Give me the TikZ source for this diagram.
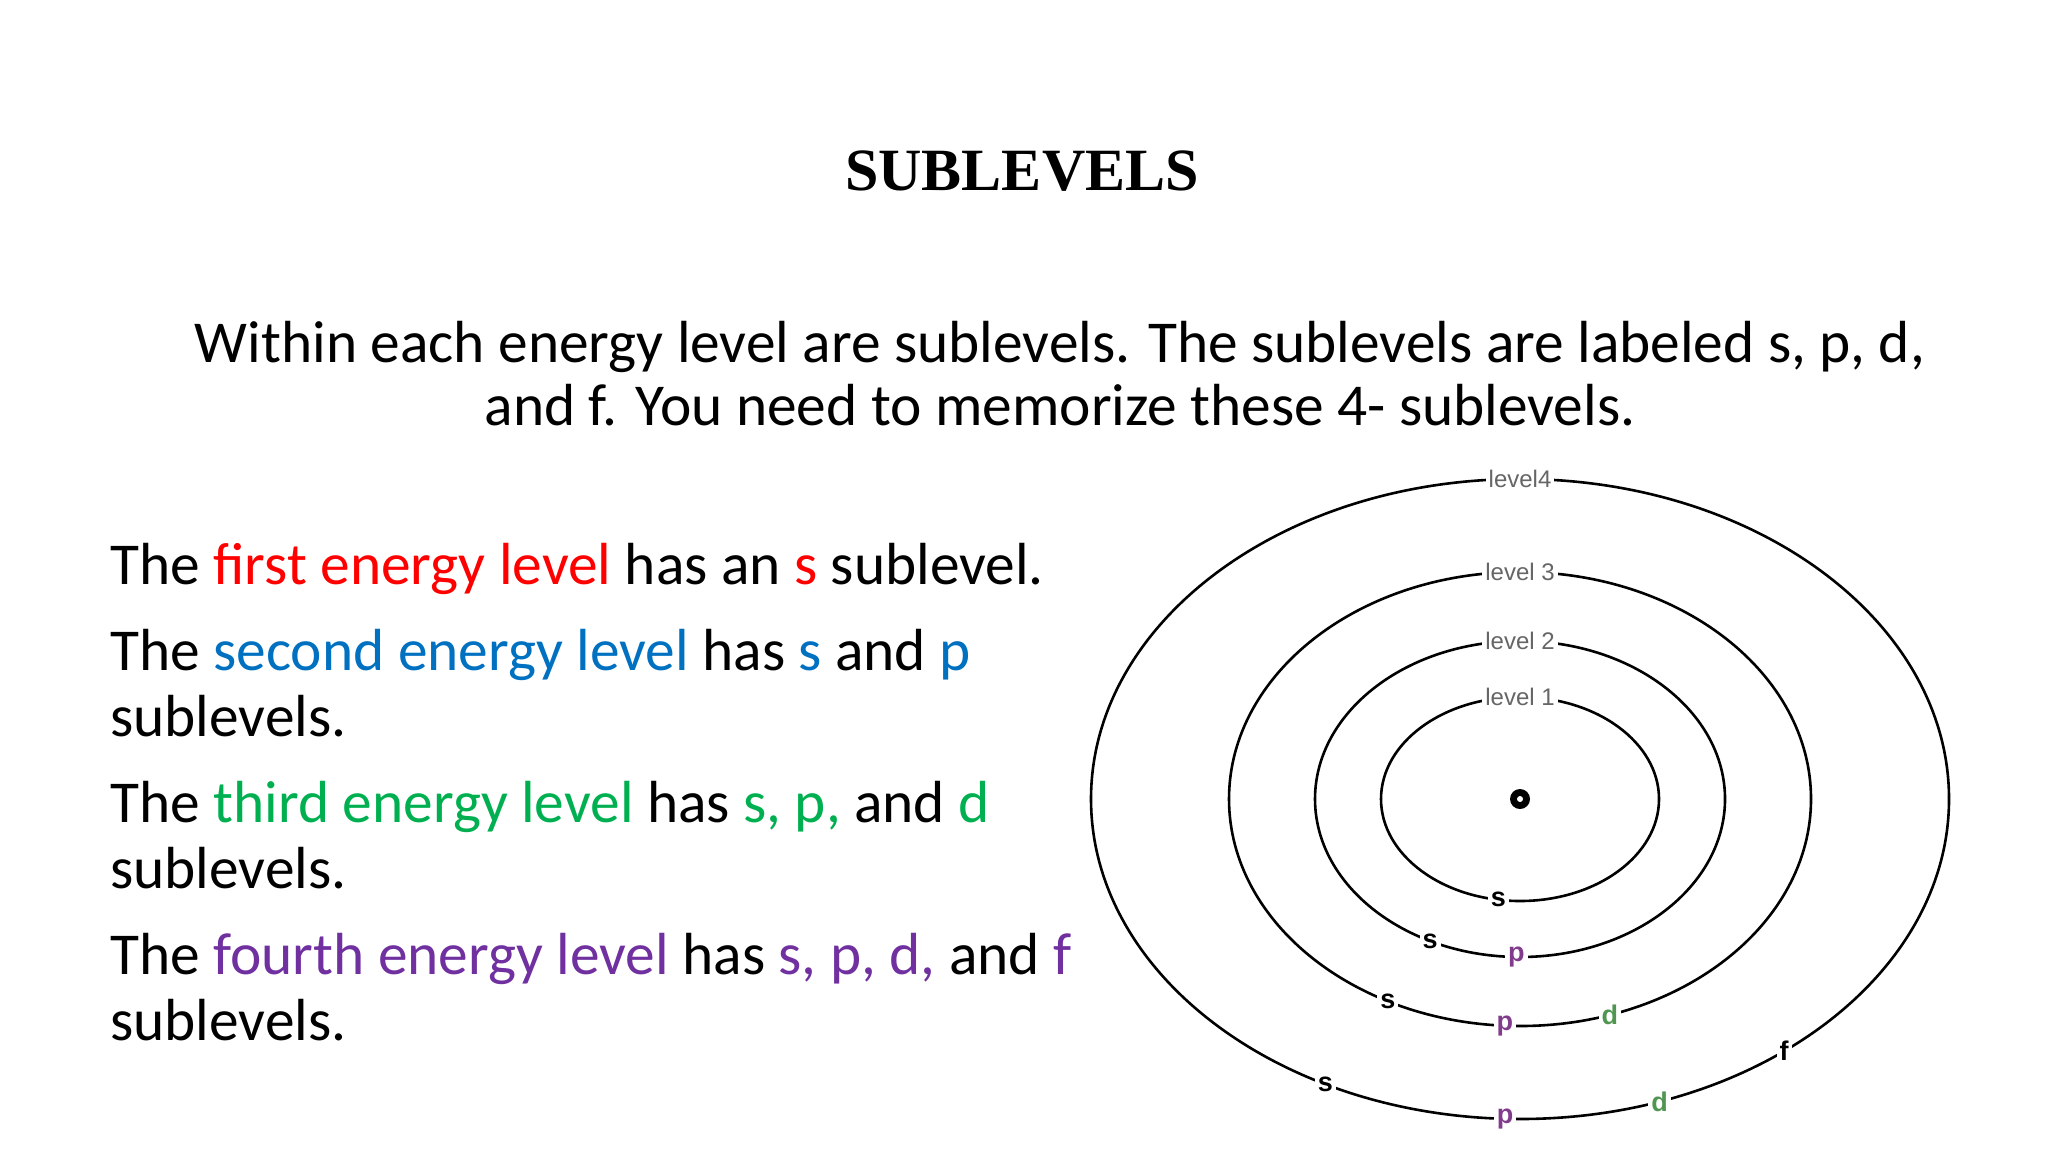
\documentclass[tikz,border=0pt]{standalone}
\usepackage{fontspec}
\usetikzlibrary{calc}
\setmainfont{Carlito}
\newfontfamily\titlefont{Liberation Serif}
\newfontfamily\lblfont{Liberation Sans}
\definecolor{cred}{RGB}{255,0,0}
\definecolor{cblue}{RGB}{0,112,192}
\definecolor{cgreen}{RGB}{0,176,80}
\definecolor{cpurple}{RGB}{112,48,160}
\definecolor{lpur}{RGB}{130,60,140}
\definecolor{lgrn}{RGB}{80,150,80}
\begin{document}
\begin{tikzpicture}[x=0.5pt,y=-0.5pt,
  body/.style={anchor=base west,inner sep=0pt,font=\fontsize{29.7}{34}\selectfont},
  orb/.style={draw=black,line width=1.3pt},
  lvl/.style={fill=white,inner sep=1.5pt,text=gray!80!black,font=\lblfont\fontsize{12}{13}\selectfont},
  sub/.style={fill=white,inner sep=1.5pt,font=\lblfont\bfseries\fontsize{13.5}{14}\selectfont}]
\useasboundingbox (0,0) rectangle (2048,1152);
\node[anchor=base,font=\titlefont\bfseries\fontsize{30}{34}\selectfont] (title) at (1022,190) {SUBLEVELS};
\node[anchor=base,inner sep=0pt,font=\fontsize{29.7}{34}\selectfont] (para1) at (1060,362) {Within each energy level are sublevels. The sublevels are labeled s, p, d,};
\node[anchor=base,inner sep=0pt,font=\fontsize{29.7}{34}\selectfont] (para2) at (1060,425) {and f. You need to memorize these 4- sublevels.};
\node[body] (l1) at (110,584) {The \textcolor{cred}{first energy level} has an \textcolor{cred}{s} sublevel.};
\node[body] (l2) at (110,670) {The \textcolor{cblue}{second energy level} has \textcolor{cblue}{s} and \textcolor{cblue}{p}};
\node[body] (l3) at (110,736) {sublevels.};
\node[body] (l4) at (110,822) {The \textcolor{cgreen}{third energy level} has \textcolor{cgreen}{s, p,} and \textcolor{cgreen}{d}};
\node[body] (l5) at (110,888) {sublevels.};
\node[body] (l6) at (110,974) {The \textcolor{cpurple}{fourth energy level} has \textcolor{cpurple}{s, p, d,} and \textcolor{cpurple}{f}};
\node[body] (l7) at (110,1040) {sublevels.};
% orbits
\coordinate (c) at (1520,799);
\fill (c) circle[radius=10];
\fill[white] (c) circle[radius=3];
\draw[orb] (c) ellipse[x radius=139,y radius=102];
\draw[orb] (c) ellipse[x radius=205,y radius=158];
\draw[orb] (c) ellipse[x radius=291,y radius=227];
\draw[orb] (c) ellipse[x radius=429,y radius=320];
\node[lvl] (t1) at ($(c)+(-90:139 and 102)$) {level 1};
\node[lvl] (t2) at ($(c)+(-90:205 and 158)$) {level 2};
\node[lvl] (t3) at ($(c)+(-90:291 and 227)$) {level 3};
\node[lvl] (t4) at ($(c)+(-90:429 and 320)$) {level4};
\node[sub] (s1) at ($(c)+(99:139 and 102)$) {s};
\node[sub] (s2) at ($(c)+(116:205 and 158)$) {s};
\node[sub,text=lpur] (p2) at ($(c)+(91:205 and 158)$) {p};
\node[sub] (s3) at ($(c)+(117:291 and 227)$) {s};
\node[sub,text=lpur] (p3) at ($(c)+(93:291 and 227)$) {p};
\node[sub,text=lgrn] (d3) at ($(c)+(72:291 and 227)$) {d};
\node[sub] (s4) at ($(c)+(117:429 and 320)$) {s};
\node[sub,text=lpur] (p4) at ($(c)+(92:429 and 320)$) {p};
\node[sub,text=lgrn] (d4) at ($(c)+(71:429 and 320)$) {d};
\node[sub] (f4) at ($(c)+(52:429 and 320)$) {f};
\end{tikzpicture}
\end{document}
